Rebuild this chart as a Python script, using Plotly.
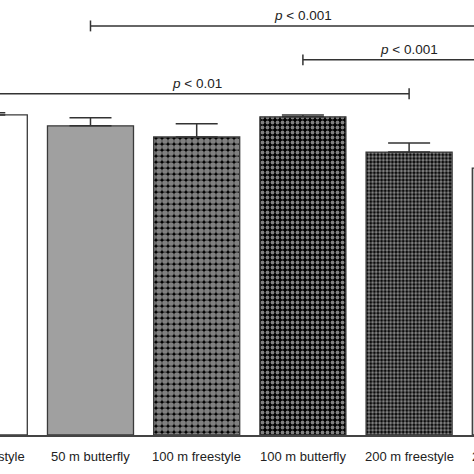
import plotly.graph_objects as go

# swim events (the picture is a crop: first and last bar are cut off)
events = ['50 m freestyle', '50 m butterfly', '100 m freestyle',
          '100 m butterfly', '200 m freestyle', '200 m butterfly']
means = [100.0, 96.6, 93.1, 99.4, 88.4, 83.4]
sds = [0.7, 2.5, 4.1, 0.6, 2.8, 2.0]

# significance brackets: (from bar, to bar, label)
sig_from = [1, 3, 0]
sig_to = [5, 5, 4]
sig_text = ['p < 0.001', 'p < 0.001', 'p < 0.01']
sig_level = [127.8, 117.2, 106.6]

bar_colors = ['white', '#a0a0a0', 'black', 'black', 'black', '#c4c4c4']
pat_shape = ['', '', '.', '.', '.', '']
pat_fg = ['white', 'white', 'white', '#9c9c9c', '#e6e6e6', 'white']
pat_size = [6, 6, 6, 5, 3.6, 6]
pat_solid = [0.4, 0.4, 0.72, 0.45, 0.55, 0.4]

X_RANGE = [0.148, 4.611]
Y_RANGE = [0, 135.9]
FONT = 'Liberation Sans, Arial, sans-serif'

fig = go.Figure()
fig.add_trace(go.Bar(
    x=list(range(len(events))), y=means, width=0.81,
    marker=dict(color=bar_colors,
                line=dict(color='#3a3a3a', width=1.3),
                pattern=dict(shape=pat_shape, fgcolor=pat_fg, size=pat_size,
                             solidity=pat_solid, fillmode='overlay')),
    error_y=dict(type='data', symmetric=False, array=sds,
                 arrayminus=[0] * len(sds), color='#333333',
                 thickness=1.5, width=21),
    showlegend=False,
))


def to_paper(i):
    return (i - X_RANGE[0]) / (X_RANGE[1] - X_RANGE[0])


# category labels (as annotations so the cut-off ones still show)
for i, name in enumerate(events):
    fig.add_annotation(x=to_paper(i), xref='paper', y=0, yref='paper',
                       text=name, showarrow=False, xanchor='center',
                       yanchor='top', yshift=-12,
                       font=dict(family=FONT, size=13, color='#222222'))

# significance brackets
for a, b, t, lv in zip(sig_from, sig_to, sig_text, sig_level):
    fig.add_shape(type='line', x0=a, x1=b, y0=lv, y1=lv,
                  line=dict(color='#333333', width=1.5))
    for e in (a, b):
        fig.add_shape(type='line', x0=e, x1=e, y0=lv - 1.7, y1=lv + 1.7,
                      line=dict(color='#333333', width=1.5))
    fig.add_annotation(x=(a + b) / 2, y=lv, text='<i>p</i> &lt; ' + t.split('< ')[1],
                       showarrow=False, xanchor='center', yanchor='bottom', yshift=1,
                       font=dict(family=FONT, size=13.5, color='#222222'))

fig.update_layout(
    width=474, height=474,
    margin=dict(l=0, r=0, t=0, b=39),
    paper_bgcolor='white', plot_bgcolor='white',
)
fig.update_xaxes(range=X_RANGE, showline=True, linecolor='#444444', linewidth=1.5,
                 showticklabels=False, ticks='', showgrid=False, zeroline=False)
fig.update_yaxes(range=Y_RANGE, visible=False, showgrid=False, zeroline=False)

# page has a default 8px body margin; drop it so the figure fills the window
fig.write_html('out.html', config={'displayModeBar': False},
               post_script="document.body.style.margin='0';")
